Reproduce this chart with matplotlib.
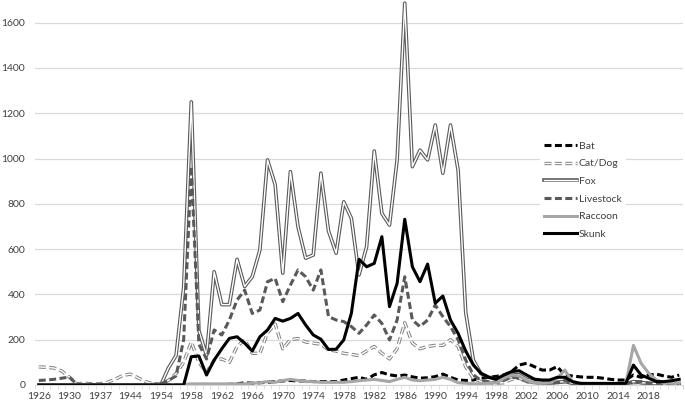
import matplotlib
matplotlib.use("Agg")
import matplotlib.pyplot as plt
from matplotlib.legend_handler import HandlerTuple

# categorias del eje x (faltan algunos anios al principio)
years = [1926, 1927, 1928, 1929, 1930, 1932, 1934, 1936, 1937, 1939, 1941, 1943,
         1944, 1946, 1948, 1951] + list(range(1954, 2023))

# series
bat = [0, 0, 0, 0, 0, 0, 0, 0, 0, 0, 0, 0, 0, 0, 0, 0,
       0, 0, 0, 0, 0, 0, 0, 0, 0, 3, 5, 10, 8, 10, 12, 15, 18, 20, 18, 17,
       15, 15, 15, 15, 22, 28, 34, 25, 45, 55, 45, 40, 44, 36, 30, 32, 37, 48,
       34, 22, 20, 22, 30, 34, 38, 44, 59, 88, 96, 81, 66, 66, 81, 44, 40, 36,
       34, 34, 30, 25, 22, 22, 44, 34, 44, 48, 40, 34, 44]
catdog = [80, 78, 75, 62, 35, 5, 8, 5, 5, 12, 25, 42, 48, 32, 15, 5,
          5, 20, 50, 100, 190, 100, 55, 110, 115, 100, 170, 200, 140, 140, 230,
          270, 160, 200, 205, 190, 185, 180, 155, 150, 140, 135, 130, 150, 170,
          140, 115, 160, 275, 185, 160, 170, 175, 175, 200, 170, 80, 30, 15, 10,
          8, 10, 25, 30, 15, 10, 8, 8, 10, 15, 8, 5, 5, 5, 5, 5, 5, 5, 10, 10, 8,
          5, 5, 5, 5]
fox = [0, 0, 0, 0, 0, 0, 0, 0, 0, 0, 0, 0, 0, 0, 0, 0,
       0, 75, 130, 430, 1250, 240, 130, 500, 355, 355, 555, 435, 478, 596, 994,
       885, 494, 942, 699, 560, 574, 935, 680, 582, 809, 736, 486, 611, 1033,
       758, 706, 994, 1686, 964, 1037, 994, 1148, 935, 1148, 949, 320, 110, 50,
       35, 25, 30, 45, 45, 25, 15, 12, 10, 12, 15, 8, 6, 5, 5, 5, 5, 5, 5, 15,
       10, 8, 6, 5, 5, 5]
livestock = [20, 22, 25, 30, 35, 3, 2, 1, 0, 0, 0, 0, 0, 0, 0, 3,
             5, 20, 40, 200, 965, 180, 115, 243, 221, 287, 375, 419, 316, 331,
             456, 471, 368, 441, 508, 478, 419, 508, 302, 287, 280, 258, 228, 265,
             309, 272, 199, 287, 478, 287, 258, 287, 353, 302, 258, 200, 110, 45,
             20, 15, 10, 20, 35, 30, 15, 10, 8, 8, 10, 20, 8, 5, 5, 5, 5, 5, 5, 5,
             15, 15, 8, 5, 5, 5, 5]
raccoon = [0, 0, 0, 0, 0, 0, 0, 0, 0, 0, 0, 0, 0, 0, 0, 0,
           0, 0, 0, 2, 5, 5, 5, 5, 5, 5, 5, 5, 8, 10, 15, 12, 20, 25, 20, 15, 15,
           12, 12, 12, 12, 15, 19, 22, 25, 20, 15, 25, 34, 22, 19, 22, 25, 34, 25,
           10, 8, 5, 5, 8, 10, 30, 45, 40, 20, 10, 8, 10, 30, 66, 15, 8, 5, 5, 5,
           5, 5, 5, 175, 96, 52, 22, 10, 8, 10]
skunk = [0, 0, 0, 0, 0, 0, 0, 0, 0, 0, 0, 0, 0, 0, 0, 0,
         0, 0, 0, 0, 125, 128, 44, 110, 160, 206, 213, 185, 150, 213, 243, 294,
         282, 294, 316, 265, 221, 202, 157, 158, 199, 317, 555, 522, 537, 655,
         346, 449, 732, 522, 456, 534, 361, 393, 287, 228, 150, 88, 52, 34, 26,
         44, 59, 63, 44, 26, 22, 22, 34, 34, 15, 7, 7, 7, 7, 7, 7, 7, 88, 44, 30,
         15, 15, 19, 25]

plt.rcParams['font.family'] = ['Lato', 'DejaVu Sans']
plt.rcParams['lines.scale_dashes'] = False

x = list(range(len(years)))

fig = plt.figure(figsize=(6.85, 4.05), dpi=100)
ax = fig.add_axes([35/685, 20/405, 648/685, 385/405])

dash = (5, 2.5)
l_bat, = ax.plot(x, bat, color='black', lw=2.2, dashes=dash, label='Bat')
l_cd1, = ax.plot(x, catdog, color='#7f7f7f', lw=2.4, dashes=dash)
l_cd2, = ax.plot(x, catdog, color='white', lw=1.0, dashes=dash)
l_fox1, = ax.plot(x, fox, color='#595959', lw=2.6)
l_fox2, = ax.plot(x, fox, color='white', lw=1.0)
l_liv, = ax.plot(x, livestock, color='#595959', lw=2.2, dashes=dash)
l_rac, = ax.plot(x, raccoon, color='#a6a6a6', lw=2.2)
l_sku, = ax.plot(x, skunk, color='black', lw=2.2)

ax.set_xlim(-0.5, len(years) - 0.5)
ax.set_ylim(0, 1700)
ax.set_yticks(range(0, 1601, 200))
ax.yaxis.grid(True, color='#d9d9d9', lw=0.9)
ax.set_axisbelow(True)
for s in ['top', 'right', 'left']:
    ax.spines[s].set_visible(False)
ax.spines['bottom'].set_color('#d9d9d9')

# etiqueta cada 4 categorias, hasta 2018
ax.set_xticks(x[0:81:4])
ax.set_xticklabels([str(y) for y in years[0:81:4]])
ax.set_xticks([i - 0.5 for i in range(len(years) + 1)], minor=True)
ax.tick_params(axis='x', which='major', length=0, pad=5, labelsize=7.5, labelcolor='#404040')
ax.tick_params(axis='x', which='minor', length=3, color='#d9d9d9')
ax.tick_params(axis='y', length=0, pad=7, labelsize=7.5, labelcolor='#404040')

leg = ax.legend([l_bat, (l_cd1, l_cd2), (l_fox1, l_fox2), l_liv, l_rac, l_sku],
                ['Bat', 'Cat/Dog', 'Fox', 'Livestock', 'Raccoon', 'Skunk'],
                handler_map={tuple: HandlerTuple(ndivide=1)},
                loc='upper left', bbox_to_anchor=(535/685, 1 - 132/405),
                bbox_transform=fig.transFigure, fontsize=7.5,
                handlelength=3.1, handletextpad=0.2, labelspacing=0.8,
                frameon=True, fancybox=False, borderpad=0.4)
leg.get_frame().set_edgecolor('none')
leg.get_frame().set_facecolor('white')
leg.get_frame().set_alpha(1)
for t in leg.get_texts():
    t.set_color('#404040')

fig.savefig('out.png', dpi=100)
